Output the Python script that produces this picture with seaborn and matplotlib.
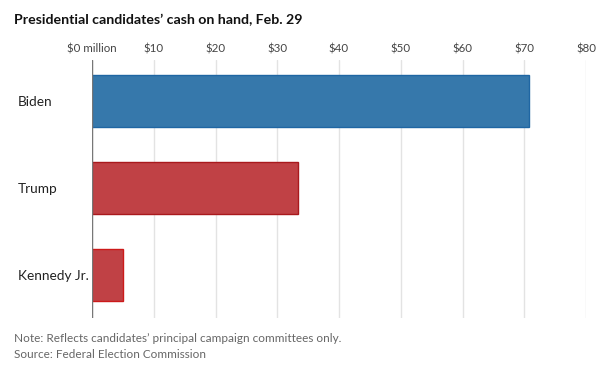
import matplotlib
matplotlib.use("Agg")
import matplotlib.pyplot as plt
import seaborn as sns
import pandas as pd

candidates = ["Biden", "Trump", "Kennedy Jr."]
cash_millions = [70.8, 33.3, 5.0]
fill_colors = ["#3678ab", "#c04145", "#c04145"]
edge_colors = ["#1f66a3", "#a9191d", "#cc1a1a"]
tick_values = [0, 10, 20, 30, 40, 50, 60, 70, 80]
tick_labels = ["$0 million", "$10", "$20", "$30", "$40", "$50", "$60", "$70", "$80"]
title = "Presidential candidates\u2019 cash on hand, Feb. 29"
note = "Note: Reflects candidates\u2019 principal campaign committees only."
source = "Source: Federal Election Commission"

sns.set_theme(style="white")
plt.rcParams["font.family"] = ["Lato", "DejaVu Sans"]

df = pd.DataFrame({"candidate": candidates, "cash": cash_millions})

fig = plt.figure(figsize=(6.0, 3.68), dpi=100)
ax = fig.add_axes([92 / 600, (368 - 318) / 368, (586 - 92) / 600, (318 - 60) / 368])

sns.barplot(data=df, y="candidate", x="cash", hue="candidate",
            palette=dict(zip(candidates, fill_colors)), orient="h",
            width=0.6, saturation=1, legend=False, ax=ax, zorder=3)
for patch, ec in zip(ax.patches, edge_colors):
    patch.set_edgecolor(ec)
    patch.set_linewidth(1.0)

ax.set_xlim(0, 80)
ax.set_ylim(2.494, -0.471)
ax.set_xticks(tick_values)
ax.set_xticklabels(tick_labels)
ax.xaxis.tick_top()
ax.tick_params(axis="x", length=0, pad=4, labelsize=8.3, labelcolor="#444444")
ax.tick_params(axis="y", length=0, pad=(92 - 18) * 0.72, labelsize=9.8, labelcolor="#222222")
for lbl in ax.get_yticklabels():
    lbl.set_horizontalalignment("left")
ax.set_xlabel("")
ax.set_ylabel("")
ax.grid(axis="x", color="#e3e3e3", linewidth=1.0, zorder=0)
ax.grid(axis="y", visible=False)
for s in ax.spines.values():
    s.set_visible(False)
ax.axvline(0, color="#777777", linewidth=1.0, zorder=4)

fig.text(14 / 600, 1 - 20 / 368, title, fontsize=10.2, fontweight="bold",
         color="#111111", va="center", ha="left")
fig.text(14 / 600, 1 - 338 / 368, note, fontsize=8.5, color="#666666",
         va="center", ha="left")
fig.text(14 / 600, 1 - 355 / 368, source, fontsize=8.5, color="#666666",
         va="center", ha="left")

fig.savefig("out.png", dpi=100)
